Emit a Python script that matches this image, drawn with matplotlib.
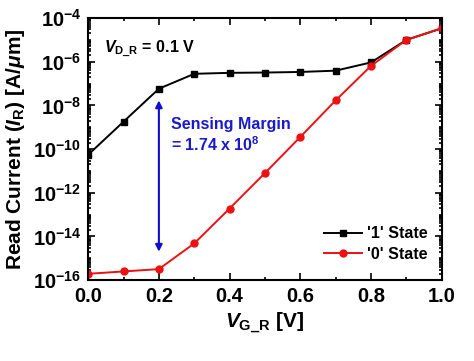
import numpy as np
import matplotlib
matplotlib.use('Agg')
import matplotlib.pyplot as plt
from matplotlib.ticker import LogLocator, FixedLocator, MultipleLocator

plt.rcParams['font.family'] = 'Liberation Sans'
plt.rcParams['font.weight'] = 'bold'
plt.rcParams['axes.labelweight'] = 'bold'
plt.rcParams['mathtext.fontset'] = 'custom'
plt.rcParams['mathtext.rm'] = 'Liberation Sans:bold'
plt.rcParams['mathtext.bf'] = 'Liberation Sans:bold'
plt.rcParams['mathtext.it'] = 'Liberation Sans:bold:italic'

# ---------------------------------------------------------------------------
# data
vg = [0.0, 0.1, 0.2, 0.3, 0.4, 0.5, 0.6, 0.7, 0.8, 0.9, 1.0]
i_state1 = [5.5e-11, 1.8e-9, 5.8e-8, 2.8e-7, 3.1e-7, 3.2e-7, 3.4e-7,
            3.9e-7, 9.3e-7, 1.0e-5, 3.4e-5]
i_state0 = [1.95e-16, 2.5e-16, 3.2e-16, 4.8e-15, 1.9e-13, 8.0e-12,
            3.6e-10, 1.7e-8, 6.5e-7, 1.0e-5, 3.4e-5]
labels = ["'1' State", "'0' State"]
y_ticks = [1e-16, 1e-14, 1e-12, 1e-10, 1e-8, 1e-6, 1e-4]
x_ticks = [0.0, 0.2, 0.4, 0.6, 0.8, 1.0]

# ---------------------------------------------------------------------------
fig = plt.figure(figsize=(4.74, 3.61), dpi=100)
ax = fig.add_axes([0.186, 0.224, 0.746, 0.726])

ax.plot(vg, i_state1, color='black', marker='s', ms=4.5, lw=1.4,
        label=labels[0])
ax.plot(vg, i_state0, color='#ee1111', marker='o', ms=5, lw=1.4,
        label=labels[1])

ax.set_yscale('log')
ax.set_xlim(0.0, 1.0)
ax.set_ylim(1e-16, 1e-4)
ax.yaxis.set_major_locator(FixedLocator(y_ticks))
ax.yaxis.set_minor_locator(LogLocator(base=10, subs=np.arange(1, 10), numticks=30))
ax.set_yticklabels([r'$10^{%d}$' % int(np.log10(t)) for t in y_ticks])
ax.xaxis.set_major_locator(FixedLocator(x_ticks))
ax.xaxis.set_minor_locator(MultipleLocator(0.1))
ax.set_xticklabels(['%.1f' % t for t in x_ticks])

ax.tick_params(which='both', direction='in', top=True, right=True,
               labelsize=14.5, width=1.2)
ax.tick_params(which='major', length=5, pad=5)
ax.tick_params(which='minor', length=2.5)
ax.tick_params(axis='y', which='minor', labelleft=False)
for sp in ax.spines.values():
    sp.set_linewidth(1.5)

ax.set_xlabel(r'$\mathit{V}_{\mathrm{G\_R}}$ [V]', fontsize=15, labelpad=3)
ax.set_ylabel(r'Read Current ($\mathit{I}_{\mathrm{R}}$) [A/$\mu$m]',
              fontsize=15, labelpad=4)

# sensing margin arrow
ax.annotate('', xy=(0.2, 1.7e-8), xytext=(0.2, 2e-15),
            arrowprops=dict(arrowstyle='<|-|>', color='#1010cc', lw=1.5,
                            mutation_scale=10, shrinkA=0, shrinkB=0))
ax.text(0.235, 8e-10, 'Sensing Margin', color='#1a1acc', fontsize=11.5,
        fontweight='bold')
ax.text(0.235, 8e-11, r'= 1.74 x 10$^{8}$', color='#1a1acc', fontsize=11.5,
        fontweight='bold')
ax.text(0.045, 2.5e-6, r'$\mathit{V}_{\mathrm{D\_R}}$ = 0.1 V', fontsize=11.5,
        fontweight='bold')

leg = ax.legend(loc='lower right', frameon=False, fontsize=11.5,
                bbox_to_anchor=(1.0, 0.015), handlelength=2.4,
                handletextpad=0.3, labelspacing=0.35)

fig.savefig('out.png', dpi=100)
